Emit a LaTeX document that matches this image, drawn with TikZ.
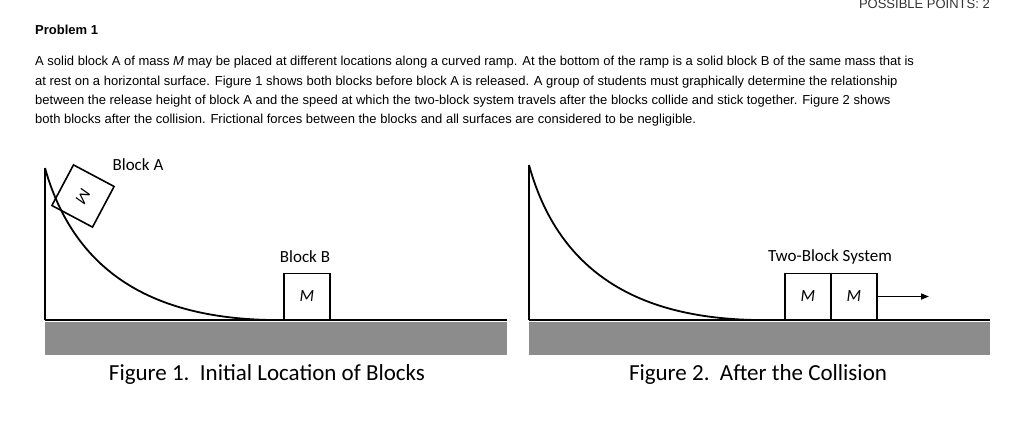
\documentclass[tikz,border=0pt]{standalone}
\usepackage{fontspec}
\setmainfont{Liberation Sans}
\newfontfamily\carlitofont{Carlito}
\usetikzlibrary{arrows.meta}
\begin{document}
\begin{tikzpicture}[x=1pt,y=-1pt,
  body/.style={anchor=west,inner sep=0,font=\fontsize{13}{15}\selectfont},
  lbl/.style={inner sep=0,font=\carlitofont\fontsize{17}{19}\selectfont},
  figcap/.style={inner sep=0,font=\carlitofont\fontsize{23}{26}\selectfont},
  blk/.style={draw,line width=1.6pt,minimum size=46pt,inner sep=0,font=\carlitofont\itshape\fontsize{17}{19}\selectfont},
  ln/.style={line width=1.8pt},
  gnd/.style={fill=black!45,draw=none}]
\useasboundingbox (0,0) rectangle (1010,445);
\node[anchor=east,inner sep=0,font=\fontsize{13}{15}\selectfont,text=black!80] (pp) at (990,4) {POSSIBLE POINTS: 2};
\node[body,font=\bfseries\fontsize{13}{15}\selectfont] (pr) at (35,30) {Problem 1};
\node[body] (l1) at (35,62) {A solid block A of mass \textit{M} may be placed at different locations along a curved ramp. At the bottom of the ramp is a solid block B of the same mass that is};
\node[body] (l2) at (35,82) {at rest on a horizontal surface. Figure 1 shows both blocks before block A is released. A group of students must graphically determine the relationship};
\node[body] (l3) at (35,101) {between the release height of block A and the speed at which the two-block system travels after the blocks collide and stick together. Figure 2 shows};
\node[body] (l4) at (35,120) {both blocks after the collision. Frictional forces between the blocks and all surfaces are considered to be negligible.};
% Figure 1
\fill[gnd] (45,322) rectangle (507,355);
\draw[ln] (45,320) -- (507,320);
\draw[ln] (45,320) -- (45,168);
\draw[ln] (45,168) .. controls (78,285) and (170,318) .. (270,320);
\node[blk,rotate=-28] (A) at (83,196) {\rotatebox{-90}{M}};
\node[lbl] (la) at (138,165) {Block A};
\node[blk] (B) at (307,296.5) {M};
\node[lbl] (lb) at (305,257) {Block B};
\node[figcap] (c1) at (267,374) {Figure 1.\ \ Initial Location of Blocks};
% Figure 2
\fill[gnd] (529,322) rectangle (990,355);
\draw[ln] (529,320) -- (990,320);
\draw[ln] (529,320) -- (529,165);
\draw[ln] (529,165) .. controls (562,285) and (655,318) .. (755,320);
\node[blk] (m1) at (808,296.5) {M};
\node[blk] (m2) at (854,296.5) {M};
\coordinate (tip) at (929,296.5);
\draw[line width=1.6pt,-{Triangle[length=8pt,width=6pt]}] (m2.east) -- (tip);
\node[lbl] (ts) at (830,257) {Two-Block System};
\node[figcap] (c2) at (758,374) {Figure 2.\ \ After the Collision};
\end{tikzpicture}
\end{document}
